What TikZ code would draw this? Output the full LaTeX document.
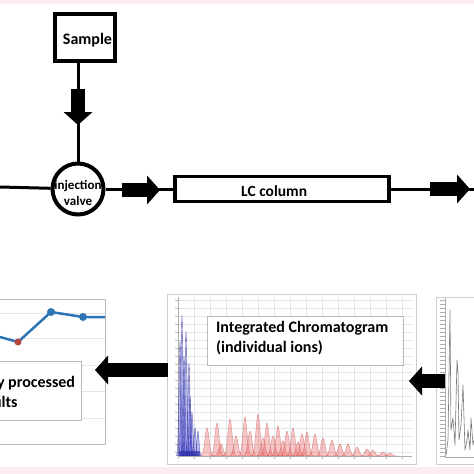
\documentclass[tikz,border=0pt]{standalone}
\usepackage{fontspec}
\setmainfont{Carlito}
\usetikzlibrary{arrows.meta, calc}
\definecolor{gridgrey}{RGB}{226,229,234}
\definecolor{framegrey}{RGB}{185,185,185}
\definecolor{lineblue}{RGB}{46,117,182}
\definecolor{dotred}{RGB}{178,72,60}
\definecolor{peakblue}{RGB}{40,40,200}
\definecolor{peakred}{RGB}{235,75,75}
\definecolor{stripe}{RGB}{252,236,239}
\definecolor{specgrey}{RGB}{120,120,120}

\begin{document}
\begin{tikzpicture}[x=1pt, y=-1pt,
  flowbox/.style={draw, line width=4pt, inner sep=0pt},
  conn/.style={line width=3pt},
  fatarrow/.style={line width=14pt, -{Triangle[width=29pt, length=13pt, line width=0pt]}},
  boldtxt/.style={font=\fontsize{16}{20}\selectfont\bfseries, inner sep=0pt},
  textbox/.style={draw=framegrey, fill=white, line width=0.8pt}]
  \useasboundingbox (0,0) rectangle (474,474);
  \clip (0,0) rectangle (474,474);
  \fill[stripe] (0,0) rectangle (474,4);
  \fill[stripe] (0,467) rectangle (474,474);

  % Sample
  \node[flowbox, minimum width=60pt, minimum height=47pt] (sample) at (85,37.5) {};
  \node[boldtxt] (sampletxt) at (87.5,40) {Sample};
  % Injection valve
  \node[flowbox, circle, minimum size=51pt] (valve) at (78,189) {};
  \node[font=\fontsize{13}{16}\selectfont\bfseries, align=center, inner sep=0pt] (valvetxt) at (78,193) {injection\\valve};
  % LC column
  \node[flowbox, line width=3.5pt, minimum width=214pt, minimum height=25pt] (column) at (282,189) {};
  \node[boldtxt, font=\fontsize{15.5}{19}\selectfont\bfseries, anchor=west] (columntxt) at (241,191) {LC column};

  \coordinate (inlet) at (0,187);
  \coordinate (outlet) at (474,189);
  \draw[conn] (inlet) -- (valve);
  \draw[conn] (valve.north |- sample.south) -- (valve.north);
  \draw[conn] (valve) -- (column);
  \draw[conn] (column) -- (outlet);

  % Flow arrows
  \coordinate (a1s) at (78,89);   \coordinate (a1e) at (78,125);
  \coordinate (a2s) at (122,190); \coordinate (a2e) at (160,190);
  \coordinate (a3s) at (430,189); \coordinate (a3e) at (470,189);
  \draw[fatarrow] (a1s) -- (a1e);
  \draw[fatarrow] (a2s) -- (a2e);
  \draw[fatarrow] (a3s) -- (a3e);

  % Results chart
  \draw[framegrey, fill=white] (-2,299) rectangle (105,444);
  \foreach \gy in {313,338,365,391,418}
    \draw[gridgrey, line width=0.8pt] (-2,\gy) -- (105,\gy);
  \draw[lineblue, line width=2.5pt, line join=round] (0,337) -- (18,342) -- (51,312) -- (83,317) -- (105,317);
  \fill[dotred] (18,342) circle (3.5pt);
  \fill[lineblue] (51,312) circle (4pt);
  \fill[lineblue] (83,317) circle (4pt);
  \node[textbox, anchor=north east, minimum width=100pt, minimum height=59pt] (resbox) at (82,361) {};
  \node[boldtxt, align=left, anchor=north west] (restxt) at (-27,376) {Fully processed\\results};

  % Chromatogram
  \draw[framegrey!70, fill=white] (167,294) rectangle (416,464);
  \foreach \gx in {178,194,...,410}
    \draw[gridgrey, line width=0.4pt] (\gx,297) -- (\gx,456);
  \foreach \gy in {300,308,...,452}
    \draw[gridgrey, line width=0.4pt] (178,\gy) -- (412,\gy);
  \draw[specgrey!60, line width=0.6pt] (178,297) -- (178,456) -- (412,456);
  \foreach \gy in {300,308,...,452}
    \draw[specgrey!50, line width=0.4pt] (175,\gy) -- (178,\gy);
  \foreach \gx in {178,194,...,410}
    \draw[specgrey!50, line width=0.4pt] (\gx,456) -- (\gx,459);
  \foreach \px/\ph in {207/28,217/33,221/12,230/37,236/20,245/39,250/25,258/42,263/18,267/33,273/20,278/30,283/15,287/25,293/28,298/14,302/22,307/24,315/22,323/18,332/16,340/12,348/12,357/9,367/7,373/6,383/4,390/3}{
    \fill[peakred, opacity=0.32] plot[domain=\px-8:\px+8, samples=25] (\x,{456-\ph*exp(-((\x-\px)/2.9)^2)});
    \draw[peakred!80!black, opacity=0.5, line width=0.4pt] plot[domain=\px-8:\px+8, samples=25] (\x,{456-\ph*exp(-((\x-\px)/2.9)^2)});
  }
  \foreach \px/\ph in {180/115,182/141,184/100,186/125,189/93,190/60,192/43,195/28,198/25}{
    \fill[peakblue, opacity=0.32] plot[domain=\px-4:\px+4, samples=21] (\x,{456-\ph*exp(-((\x-\px)/1.5)^2)});
    \draw[peakblue!70!black, opacity=0.6, line width=0.4pt] plot[domain=\px-4:\px+4, samples=21] (\x,{456-\ph*exp(-((\x-\px)/1.5)^2)});
  }
  \fill[peakblue!80!black, opacity=0.6] (179,456) rectangle (200,451);
  \node[textbox, anchor=north west, minimum width=196pt, minimum height=49pt] (chrombox) at (207,316) {};
  \node[boldtxt, align=left, anchor=north west] (chromtxt) at (216,321) {Integrated Chromatogram\\(individual ions)};

  % Spectrum
  \draw[framegrey!70, fill=white] (436,297) rectangle (480,464);
  \draw[specgrey!60, line width=0.6pt] (445,298) -- (445,457) -- (480,457);
  \foreach \ty in {300,304,...,456}
    \draw[specgrey!60, line width=0.4pt] (440,\ty) -- (445,\ty);
  \draw[specgrey, line width=0.6pt, line join=round] (446,455) -- (448,440) -- (450,310) -- (451,430) -- (453,418) -- (455,445) -- (457,360) -- (458,372) -- (459,440) -- (461,425) -- (463,385) -- (465,450) -- (467,440) -- (468,430) -- (470,450) -- (471,418) -- (473,445) -- (474,440);

  % Arrows between pictures
  \coordinate (a4s) at (168,370); \coordinate (a4e) at (95,370);
  \coordinate (a5s) at (445,381); \coordinate (a5e) at (409,381);
  \draw[fatarrow] (a4s) -- (a4e);
  \draw[fatarrow] (a5s) -- (a5e);
\end{tikzpicture}
\end{document}
